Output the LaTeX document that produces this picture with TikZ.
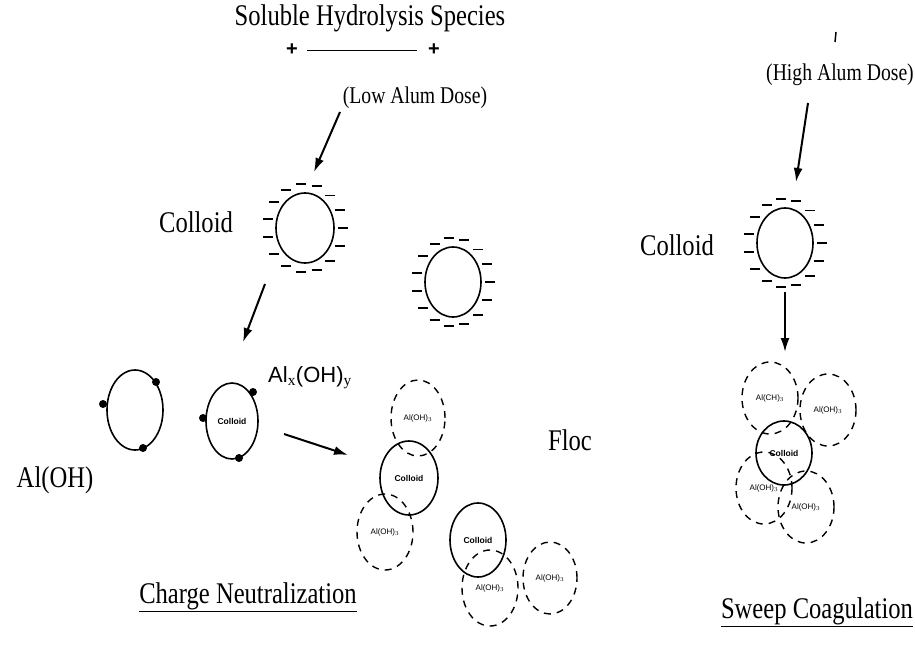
\documentclass[tikz,border=0pt]{standalone}
\usepackage{fontspec}
\setmainfont{Liberation Serif}
\newfontfamily\sansf{Liberation Sans}
\usetikzlibrary{arrows.meta,calc,shapes.geometric}
\newcommand{\nt}[1]{\scalebox{0.82}[1]{#1}}
\begin{document}
\begin{tikzpicture}[x=1pt,y=-1pt,
  arr/.style={-{Latex[length=14pt,width=9pt]},line width=2pt},
  solidc/.style={draw,line width=1.6pt},
  dashc/.style={draw,line width=1.4pt,dash pattern=on 7pt off 6pt},
  lbl/.style={font=\fontsize{30}{32}\selectfont},
  lbls/.style={font=\fontsize{24}{26}\selectfont},
  small/.style={font=\sansf\bfseries\fontsize{8.5}{9}\selectfont},
  mini/.style={font=\sansf\fontsize{8}{9}\selectfont},
  dot/.style={fill,circle,inner sep=0pt,minimum size=8pt}]
\useasboundingbox (0,0) rectangle (915,648);
\newcommand{\negcirc}[4]{%
  \node[solidc,ellipse,minimum width=#4*2pt,minimum height=70pt,inner sep=0pt] (#1) at (#2,#3) {};
  \foreach \a in {0,24,...,359}{
    \draw[line width=1.6pt] ($(#2,#3)+(\a:{#4+9} and 44)+(-5,0)$) -- ++(10,0);}
}
% top labels
\node[lbl] (sol) at (370,18) {\nt{Soluble Hydrolysis Species}};
\node[font=\sansf\bfseries\fontsize{20}{22}\selectfont] (p1) at (292,50) {+};
\node[font=\sansf\bfseries\fontsize{20}{22}\selectfont] (p2) at (434,50) {+};
\draw[line width=1pt] (p1.east) ++(6,0) coordinate (l1) -- ($(p2.west)+(-8,0)$) coordinate (l2);
\node[lbls] (low) at (415,98) {\nt{(Low Alum Dose)}};
\coordinate (a1s) at (340,112);
\negcirc{c1}{305}{228}{29}
\draw[arr] (a1s) -- (314,172);
\node[lbl] (col1) at (196,222) {\nt{Colloid}};
\negcirc{c2}{453}{282}{28}
\coordinate (a2s) at (265,284);
\draw[arr] (a2s) -- (243,342);
% neutralized
\node[solidc,ellipse,minimum width=56pt,minimum height=80pt,inner sep=0pt] (c3) at (135,410) {};
\node[dot] at (156,382) {}; \node[dot] at (103,404) {}; \node[dot] at (143,448) {};
\node[solidc,ellipse,minimum width=52pt,minimum height=76pt,inner sep=0pt,small] (c4) at (232,421) {Colloid};
\node[dot] at (253,392) {}; \node[dot] at (203,418) {}; \node[dot] at (239,458) {};
\node[font=\sansf\fontsize{22}{24}\selectfont] (alxy) at (310,378) {Al$_{\mathrm{x}}$(OH)$_{\mathrm{y}}$};
\coordinate (a3s) at (284,434);
\coordinate (a3e) at (348,455);
\draw[arr] (a3s) -- (a3e);
\node[lbl] (aloh) at (55,480) {\nt{Al(OH)}};
% floc
\node[dashc,ellipse,minimum width=54pt,minimum height=76pt,inner sep=0pt,mini] (f1) at (418,418) {Al(OH)$_3$};
\node[solidc,ellipse,minimum width=58pt,minimum height=74pt,inner sep=0pt,small] (fc1) at (409,478) {Colloid};
\node[dashc,ellipse,minimum width=56pt,minimum height=76pt,inner sep=0pt,mini] (f2) at (385,532) {Al(OH)$_3$};
\node[solidc,ellipse,minimum width=56pt,minimum height=74pt,inner sep=0pt,small] (fc2) at (478,540) {Colloid};
\node[dashc,ellipse,minimum width=56pt,minimum height=76pt,inner sep=0pt,mini] (f3) at (490,588) {Al(OH)$_3$};
\node[dashc,ellipse,minimum width=54pt,minimum height=72pt,inner sep=0pt,mini] (f4) at (550,578) {Al(OH)$_3$};
\node[lbl] (floc) at (570,440) {\nt{Floc}};
\node[lbl] (cn) at (248,597) {\nt{\underline{Charge Neutralization}}};
% right side
\draw[line width=1.5pt] (836,32) -- (835,42);
\node[lbls] (high) at (840,75) {\nt{(High Alum Dose)}};
\draw[arr] (808,103) -- (796,182);
\node[lbl] (col2) at (677,245) {\nt{Colloid}};
\negcirc{c5}{785}{243}{28}
\draw[arr] (785,292) -- (785,352);
\node[dashc,ellipse,minimum width=56pt,minimum height=72pt,inner sep=0pt,mini] (s1) at (770,398) {Al(CH)$_3$};
\node[dashc,ellipse,minimum width=56pt,minimum height=72pt,inner sep=0pt,mini] (s2) at (828,410) {Al(OH)$_3$};
\node[dashc,ellipse,minimum width=56pt,minimum height=72pt,inner sep=0pt,mini] (s3) at (764,488) {Al(OH)$_3$};
\node[dashc,ellipse,minimum width=56pt,minimum height=72pt,inner sep=0pt,mini] (s4) at (806,507) {Al(OH)$_3$};
\node[solidc,ellipse,minimum width=56pt,minimum height=64pt,inner sep=0pt,small] (sc) at (784,453) {Colloid};
\node[lbl] (sw) at (817,612) {\nt{\underline{Sweep Coagulation}}};
\end{tikzpicture}
\end{document}
